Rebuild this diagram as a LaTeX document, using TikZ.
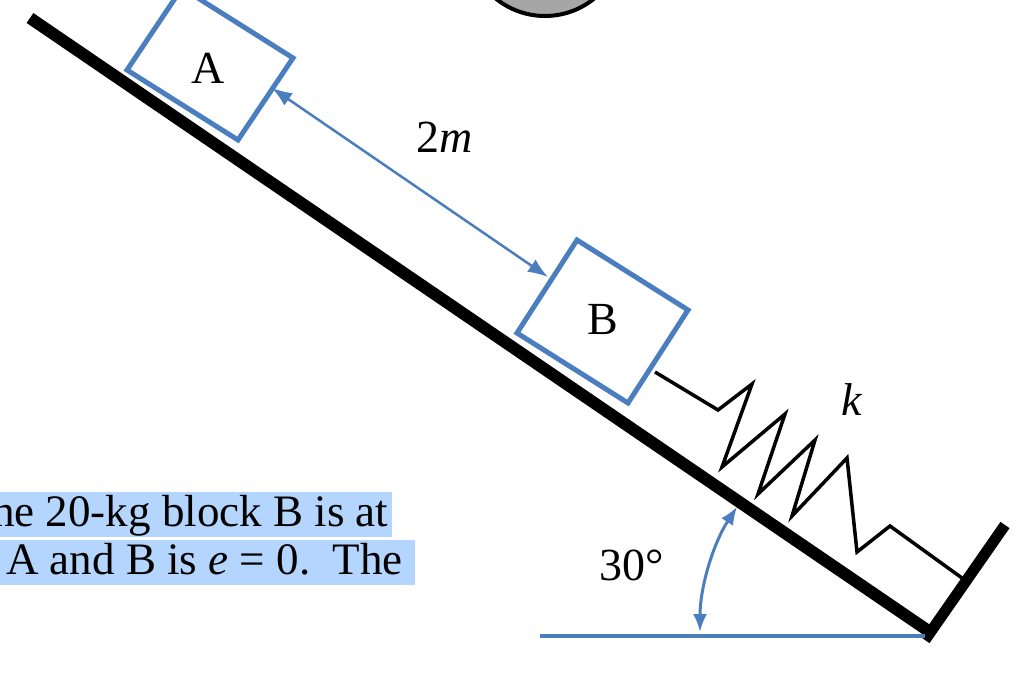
\documentclass[tikz,border=0pt]{standalone}
\usepackage{fontspec}
\setmainfont{Liberation Serif}
\usetikzlibrary{arrows.meta}
\definecolor{bl}{RGB}{74,126,190}
\definecolor{hl}{RGB}{180,213,254}
\tikzset{blk/.style={draw=bl,line width=5pt,fill=white},
lbl/.style={font=\fontsize{46}{52}\selectfont},
txt/.style={font=\fontsize{45}{50}\selectfont,anchor=base west,inner sep=0pt}}
\begin{document}
\begin{tikzpicture}[x=1pt,y=-1pt]
\useasboundingbox (0,0) rectangle (1024,680);
\fill[hl] (0,492) rectangle (392,537);
\fill[hl] (0,540) rectangle (415,585);
\node[txt] (t1) at (-8,526) {he 20-kg block B is at};
\node[txt] (t2) at (6,574) {A and B is \textit{e} = 0.\ \ The};
% pulley
\draw[fill=gray!70,line width=4pt] (545,-62) circle (78);
% incline
\coordinate (top) at (30,18);
\coordinate (bot) at (930,632);
\draw[line width=12pt] (top) -- (bot);
\draw[line width=11pt] (925,640) -- (1005,525);
% blocks
\draw[blk] (127,70) -- (238,140) -- (293,58) -- (182,-12) -- cycle;
\node[lbl] (A) at (208,68) {A};
\draw[blk] (517,333) -- (628,403) -- (688,310) -- (577,240) -- cycle;
\node[lbl] (B) at (603,320) {B};
% dimension
\coordinate (d1) at (272,88);
\coordinate (d2) at (548,277);
\draw[bl,line width=2.5pt,{Latex[length=20pt,width=15pt]}-{Latex[length=20pt,width=15pt]}] (d1) -- (d2);
\node[lbl] (m) at (445,137) {2\textit{m}};
% spring
\draw[line width=3.5pt,line join=miter] (655,372) -- (718,410) -- (752,384) -- (722,467) -- (785,414) -- (758,494) -- (815,440) -- (792,516) -- (847,458) -- (857,552) -- (890,526) -- (962,578);
\node[lbl] (k) at (852,400) {\textit{k}};
% angle
\draw[bl,line width=4pt] (540,636) -- (925,636);
\draw[bl,line width=3pt,{Latex[length=18pt,width=14pt]}-{Latex[length=18pt,width=14pt]}] (700,632) arc[start angle=180,end angle=213,radius=230];
\node[lbl] (ang) at (632,565) {30°};
\end{tikzpicture}
\end{document}
